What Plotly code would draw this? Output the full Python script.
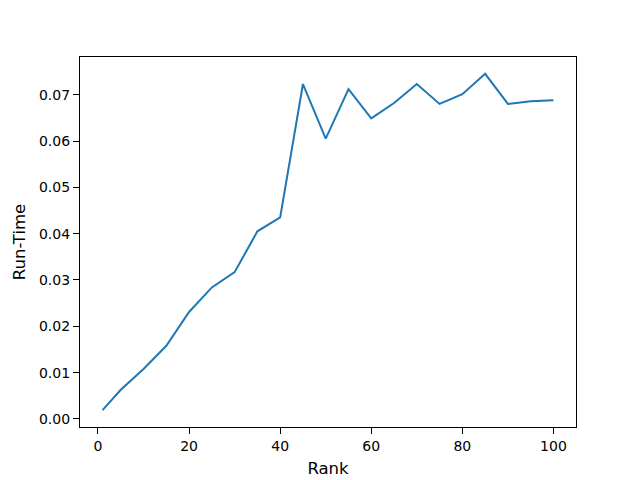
import plotly.graph_objects as go

rank = [1, 5, 10, 15, 20, 25, 30, 35, 40, 45, 50, 55, 60, 65, 70, 75, 80, 85, 90, 95, 100]
run_time = [0.0019, 0.0063, 0.0108, 0.0158, 0.0231, 0.0284, 0.0317, 0.0405, 0.0435,
            0.0723, 0.0605, 0.0712, 0.0649, 0.0682, 0.0723, 0.0680, 0.0701, 0.0745,
            0.0680, 0.0686, 0.0688]


def estilo_eje(titulo, separacion):
    return dict(
        title=dict(text=titulo, font=dict(size=16.5, color='black'), standoff=separacion),
        showline=True,
        mirror=True,
        linecolor='black',
        linewidth=1.2,
        showgrid=False,
        zeroline=False,
        automargin=False,
        ticks='outside',
        ticklen=6,
        tickwidth=1.2,
        tickcolor='black',
        tickfont=dict(size=14, color='black'),
    )


fig = go.Figure(data=[
    go.Scatter(
        x=rank,
        y=run_time,
        mode='lines',
        line=dict(color='#1f77b4', width=2)
    )
])

x_pad = (max(rank) - min(rank)) * 0.05
y_pad = (max(run_time) - min(run_time)) * 0.05

fig.update_layout(
    width=640,
    height=480,
    plot_bgcolor='white',
    paper_bgcolor='white',
    font=dict(family='DejaVu Sans', color='black'),
    margin=dict(l=80, r=64, t=57, b=53),
    showlegend=False,
    xaxis=estilo_eje('Rank', 9),
    yaxis=estilo_eje('Run-Time', 9),
)
fig.update_xaxes(range=[min(rank) - x_pad, max(rank) + x_pad], dtick=20)
fig.update_yaxes(range=[min(run_time) - y_pad, max(run_time) + y_pad],
                 dtick=0.01, tickformat='.2f')

fig.write_html("out.html", config={'displayModeBar': False},
               post_script="document.body.style.margin='0';")
